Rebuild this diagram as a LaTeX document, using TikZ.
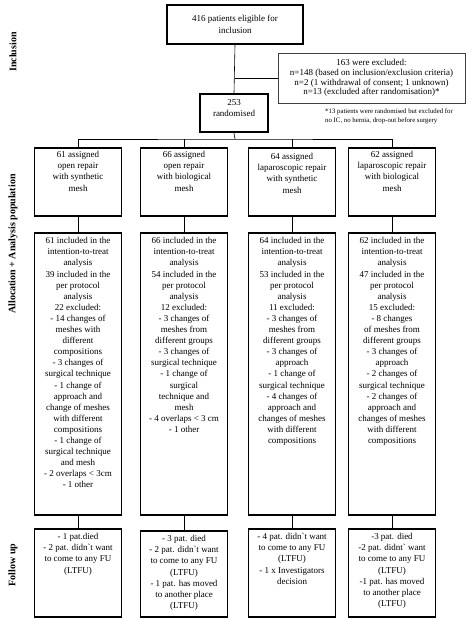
\documentclass[tikz,border=0pt]{standalone}
\usepackage{fontspec}
\setmainfont{Liberation Serif}
\begin{document}
\begin{tikzpicture}[x=1pt,y=-1pt,
  box/.style={draw, line width=1.4pt, minimum width=87pt, inner sep=0pt},
  txt/.style={align=center, font=\fontsize{9}{11.1}\selectfont, inner sep=0pt, anchor=north},
  conn/.style={draw, line width=0.6pt},
  side/.style={rotate=90, inner sep=0pt, font=\fontsize{10}{12}\selectfont\bfseries}]
\useasboundingbox (0,0) rectangle (474,622);

% side labels
\node[side] (lInc) at (13,52) {Inclusion};
\node[side] (lAll) at (13,244) {Allocation + Analysis population};
\node[side] (lFol) at (13,565) {Follow up};

% inclusion
\node[draw, line width=1.4pt, minimum width=136pt, minimum height=39pt, inner sep=0pt,
      align=center, font=\fontsize{9}{12}\selectfont] (top) at (235,24.5)
      {416 patients eligible for\\inclusion};
\node[draw, draw=black!75, line width=0.8pt, minimum width=187pt, minimum height=50pt, inner sep=0pt,
      align=center, font=\fontsize{9}{9.8}\selectfont] (excl) at (371.5,78)
      {163 were excluded:\\n=148 (based on inclusion/exclusion criteria)\\n=2 (1 withdrawal of consent; 1 unknown)\\n=13 (excluded after randomisation)*};
\node[anchor=west, align=left, inner sep=0pt, font=\fontsize{6.8}{9}\selectfont] (foot) at (325,116.5)
      {*13 patients were randomised but excluded for\\no IC, no hernia, drop-out before surgery};
\node[draw, line width=2.4pt, minimum width=68pt, minimum height=38pt, inner sep=0pt] (rand) at (234,113) {};
\node[align=center, inner sep=0pt, font=\fontsize{9}{10.5}\selectfont] (randt) at (234,108) {253\\randomised};

\draw[conn] (top.south) -- (rand.north);
\draw[conn] (excl.west) -- (excl.west -| top.south);
\coordinate (bus) at (235,139);
\draw[conn] (rand.south) -- (bus);

% assigned boxes
\node[box, minimum height=68pt] (a1) at (78,182) {};
\node[box, minimum height=68pt] (a2) at (184,182) {};
\node[box, minimum height=68pt] (a3) at (292,182) {};
\node[box, minimum height=68pt] (a4) at (392,182) {};
\node[txt] (a1t) at ([yshift=-4pt]a1.north) {61 assigned\\open repair\\with synthetic\\mesh};
\node[txt] (a2t) at ([yshift=-4pt]a2.north) {66 assigned\\open repair\\with biological\\mesh};
\node[txt] (a3t) at ([yshift=-6pt]a3.north) {64 assigned\\laparoscopic repair\\with synthetic\\mesh};
\node[txt] (a4t) at ([yshift=-4pt]a4.north) {62 assigned\\laparoscopic repair\\with biological\\mesh};

\draw[conn] (a1.north) |- (bus) -| (a4.north);
\draw[conn] (a2.north) -- (a2.north |- bus);
\draw[conn] (a3.north) -- (a3.north |- bus);

% analysis boxes
\node[box, minimum height=282pt] (b1) at (78,374) {};
\node[box, minimum height=282pt] (b2) at (184,374) {};
\node[box, minimum height=282pt] (b3) at (292,374) {};
\node[box, minimum height=282pt] (b4) at (392,374) {};
\node[txt] (b1t) at ([yshift=-5pt]b1.north) {61 included in the\\intention-to-treat\\analysis\\39 included in the\\per protocol\\analysis\\22 excluded:\\- 14 changes of\\meshes with\\different\\compositions\\- 3 changes of\\surgical technique\\- 1 change of\\approach and\\change of meshes\\with different\\compositions\\- 1 change of\\surgical technique\\and mesh\\- 2 overlaps < 3cm\\- 1 other};
\node[txt] (b2t) at ([yshift=-5pt]b2.north) {66 included in the\\intention-to-treat\\analysis\\54 included in the\\per protocol\\analysis\\12 excluded:\\- 3 changes of\\meshes from\\different groups\\- 3 changes of\\surgical technique\\- 1 change of\\surgical\\technique and\\mesh\\- 4 overlaps < 3 cm\\- 1 other};
\node[txt] (b3t) at ([yshift=-5pt]b3.north) {64 included in the\\intention-to-treat\\analysis\\53 included in the\\per protocol\\analysis\\11 excluded:\\- 3 changes of\\meshes from\\different groups\\- 3 changes of\\approach\\- 1 change of\\surgical technique\\- 4 changes of\\approach and\\changes of meshes\\with different\\compositions};
\node[txt] (b4t) at ([yshift=-5pt]b4.north) {62 included in the\\intention-to-treat\\analysis\\47 included in the\\per protocol\\analysis\\15 excluded:\\- 8 changes\\of meshes from\\different groups\\- 3 changes of\\approach\\- 2 changes of\\surgical technique\\- 2 changes of\\approach and\\changes of meshes\\with different\\compositions};

\foreach \i in {1,2,3,4} {\draw[conn] (a\i.south) -- (b\i.north);}

% follow-up boxes
\node[box, minimum height=88pt] (f1) at (78,573) {};
\node[box, minimum height=86pt] (f2) at (184,574) {};
\node[box, minimum height=88pt] (f3) at (292,573) {};
\node[box, minimum height=88pt] (f4) at (392,573) {};
\node[txt] (f1t) at ([yshift=-5pt]f1.north) {- 1 pat.died\\- 2 pat. didn\textasciigrave t want\\to come to any FU\\(LTFU)};
\node[txt] (f2t) at ([yshift=-5pt]f2.north) {- 3 pat. died\\- 2 pat. didn\textasciigrave t want\\to come to any FU\\(LTFU)\\- 1 pat. has moved\\to another place\\(LTFU)};
\node[txt] (f3t) at ([yshift=-5pt]f3.north) {- 4 pat. didn\textasciigrave t want\\to come to any FU\\(LTFU)\\- 1 x Investigators\\decision};
\node[txt] (f4t) at ([yshift=-5pt]f4.north) {-3 pat. died\\-2 pat. didnt\textasciigrave{} want\\to come to any FU\\(LTFU)\\-1 pat. has moved\\to another place\\(LTFU)};

\foreach \i in {1,2,3,4} {\draw[conn] (b\i.south) -- (f\i.north);}
\end{tikzpicture}
\end{document}
